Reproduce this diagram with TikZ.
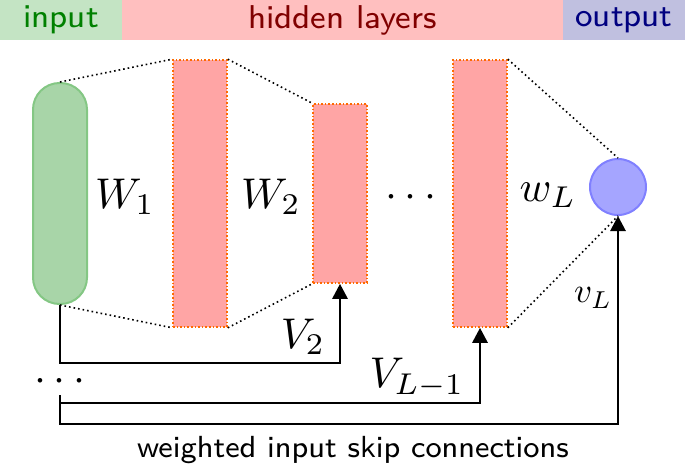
\documentclass[tikz,border=0pt]{standalone}
\usepackage{fontspec}
\usepackage{tikz}
\usetikzlibrary{arrows.meta, positioning, calc}
\newfontfamily\labelsans{lmsans8-regular.otf}
\definecolor{inputbg}{HTML}{C4E4C4}
\definecolor{inputtext}{HTML}{008000}
\definecolor{hiddenbg}{HTML}{FFBFBF}
\definecolor{hiddentext}{HTML}{800000}
\definecolor{outputbg}{HTML}{C0C0E0}
\definecolor{outputtext}{HTML}{000080}
\definecolor{inputfill}{HTML}{A8D5A8}
\definecolor{inputdraw}{HTML}{84C784}
\definecolor{hiddenfill}{HTML}{FFA5A5}
\definecolor{hiddendraw}{HTML}{FF6A00}
\definecolor{outputfill}{HTML}{A5A5FF}
\definecolor{outputdraw}{HTML}{8080FF}
\tikzstyle{bar} = [rectangle, minimum height=40pt, inner sep=0pt, font=\fontsize{33}{36}\selectfont\labelsans]
\tikzstyle{inlayer} = [rectangle, rounded corners=26.5pt, minimum width=54pt, minimum height=221pt, draw=inputdraw, fill=inputfill, line width=2pt]
\tikzstyle{hidlayer} = [rectangle, minimum width=54pt, draw=hiddendraw, fill=hiddenfill, line width=1.6pt, dotted]
\tikzstyle{outlayer} = [circle, minimum size=56pt, inner sep=0pt, draw=outputdraw, fill=outputfill, line width=2pt]
\tikzstyle{fan} = [line width=1.6pt, dash pattern=on 1.6pt off 3pt]
\tikzstyle{skip} = [line width=2.8pt, -{Triangle[length=15pt, width=15pt]}]
\tikzstyle{lbl} = [inner sep=0pt, scale=4.3]

\begin{document}
\begin{tikzpicture}[x=1pt, y=-1pt]
    \useasboundingbox (0,0) rectangle (685,465);

    % Top bar
    \node[bar, minimum width=122pt, fill=inputbg, text=inputtext] (inbar) at (61,20) {input};
    \node[bar, minimum width=441pt, fill=hiddenbg, text=hiddentext] (hidbar) at (342.5,20) {hidden layers};
    \node[bar, minimum width=122pt, fill=outputbg, text=outputtext] (outbar) at (624,20) {output};

    % Layers
    \node[inlayer] (in) at (60,193.5) {};
    \node[hidlayer, minimum height=267pt, right=84.2pt of in] (h1) {};
    \node[hidlayer, minimum height=179pt, right=84.4pt of h1] (h2) {};
    \node[hidlayer, minimum height=267pt, right=84.4pt of h2] (h3) {};
    \node[outlayer] (out) at (618,187) {};

    % Weights
    \node[lbl] (w1) at (125,197) {$W_1$};
    \node[lbl] (w2) at (271,197) {$W_2$};
    \node[lbl] (hdots) at (411,198) {$\cdots$};
    \node[lbl] (wl) at (548,195) {$w_L$};

    % Fan-in lines
    \draw[fan] (in.north) -- (h1.north west);
    \draw[fan] (in.south) -- (h1.south west);
    \draw[fan] (h1.north east) -- (h2.north west);
    \draw[fan] (h1.south east) -- (h2.south west);
    \draw[fan] (h3.north east) -- (out.north);
    \draw[fan] (h3.south east) -- (out.south);

    % Skip connections
    \node[lbl] (sdots) at (60,382) {$\cdots$};
    \coordinate (skipfork) at (60,395);
    \draw[skip] (in.south) -- ++(0,58) -| (h2.south);
    \draw[skip] (skipfork) -- ++(0,8) -| (h3.south);
    \draw[skip] (skipfork) -- ++(0,29) -| (out.south);
    \node[lbl] (v2) at (303,337) {$V_2$};
    \node[lbl] (vlm) at (417,378) {$V_{L-1}$};
    \node[lbl, scale=3.5/4.3] (vl) at (593,298) {$v_L$};

    \node[font=\fontsize{30.5}{34}\selectfont\labelsans] (caption) at (353,450) {weighted input skip connections};
\end{tikzpicture}
\end{document}
